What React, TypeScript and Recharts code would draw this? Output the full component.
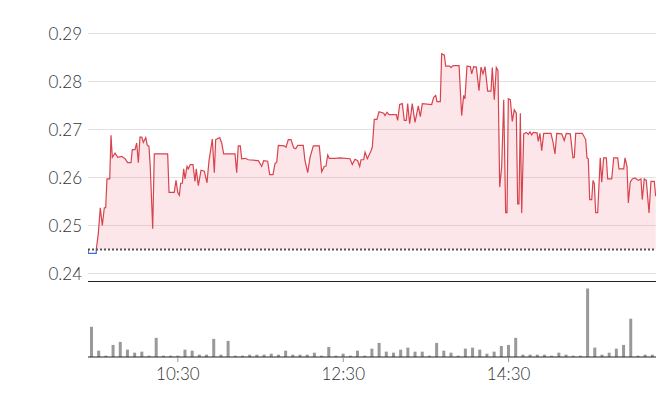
import React from "react";
import {
  Area,
  Bar,
  BarChart,
  CartesianGrid,
  ComposedChart,
  Line,
  ReferenceLine,
  XAxis,
  YAxis,
} from "recharts";

// x is measured in 5-minute volume slots (0..78), price in HKD
const prevClose = 0.245;
const priceTicks = [0.24, 0.25, 0.26, 0.27, 0.28, 0.29];
const timeTickSlots = [12, 35, 58];
const timeTickLabels = ["10:30", "12:30", "14:30"];

const preOpen: [number, number][] = [
  [-0.46, 0.245],
  [-0.46, 0.2442],
  [0.65, 0.2442],
  [0.65, 0.245],
];

const prices: [number, number][] = [
  [0.65, 0.245], [0.93, 0.2483], [1.21, 0.2537], [1.49, 0.25], [1.77, 0.2537], [1.96, 0.2537],
  [2.14, 0.2597], [2.52, 0.2597], [2.7, 0.2688], [2.88, 0.2642], [3.26, 0.2651], [3.63, 0.2642],
  [4.19, 0.2644], [4.65, 0.2639], [5.02, 0.2631], [5.48, 0.2631], [5.66, 0.2658], [6.04, 0.2658],
  [6.27, 0.2672], [6.5, 0.2631], [6.73, 0.2684], [6.97, 0.2684], [7.19, 0.2673], [7.53, 0.2683],
  [7.75, 0.2667], [7.98, 0.2665], [8.16, 0.2622], [8.5, 0.2493], [8.72, 0.2649], [10.58, 0.2649],
  [10.77, 0.2569], [11.5, 0.2569], [11.74, 0.2594], [11.98, 0.2569], [12.2, 0.2563], [12.39, 0.2588],
  [12.62, 0.2588], [12.81, 0.2618], [12.99, 0.2597], [13.27, 0.2623], [13.45, 0.2618], [13.73, 0.2627],
  [14.1, 0.2627], [14.38, 0.2592], [14.56, 0.2618], [14.84, 0.2583], [15.22, 0.2615], [15.68, 0.2613],
  [16.05, 0.2589], [16.33, 0.2635], [16.79, 0.268], [17.07, 0.261], [17.26, 0.2679], [17.82, 0.2683],
  [18.1, 0.2672], [18.37, 0.2649], [19.95, 0.2649], [20.18, 0.261], [20.4, 0.2666], [20.68, 0.2666],
  [20.88, 0.2639], [21.34, 0.264], [21.79, 0.2637], [23.19, 0.2635], [23.66, 0.2623], [23.94, 0.2635],
  [24.49, 0.2634], [24.77, 0.2606], [25.23, 0.2606], [25.51, 0.2629], [25.75, 0.2632], [25.97, 0.2667],
  [26.8, 0.2666], [27.04, 0.2663], [27.36, 0.2679], [27.73, 0.2679], [28.11, 0.2662], [28.39, 0.266],
  [28.67, 0.2667], [29.44, 0.2667], [29.68, 0.2635], [30.06, 0.261], [30.38, 0.2642], [30.84, 0.2666],
  [31.67, 0.2666], [32.0, 0.2612], [32.36, 0.2623], [32.6, 0.2624], [32.84, 0.2647], [33.06, 0.264],
  [33.85, 0.264], [34.55, 0.2641], [35.94, 0.2639], [36.26, 0.2627], [36.63, 0.2638], [37.01, 0.2635],
  [37.29, 0.2623], [37.47, 0.2637], [37.84, 0.2637], [38.03, 0.2653], [38.35, 0.2639], [38.83, 0.2654],
  [39.04, 0.2663], [39.32, 0.2721], [39.69, 0.2721], [39.97, 0.2737], [40.63, 0.2734], [40.81, 0.2729],
  [41.09, 0.2736], [41.36, 0.2731], [42.38, 0.2731], [42.57, 0.2719], [42.85, 0.2752], [43.21, 0.2754],
  [43.49, 0.2719], [43.77, 0.2719], [43.96, 0.2754], [44.24, 0.2712], [44.6, 0.2754], [44.98, 0.2715],
  [45.44, 0.2749], [45.72, 0.2727], [46.0, 0.2754], [47.3, 0.2752], [47.58, 0.2767], [47.86, 0.2771],
  [48.04, 0.2758], [48.5, 0.2758], [48.69, 0.2858], [49.06, 0.2855], [49.25, 0.2832], [49.81, 0.2832],
  [49.99, 0.2829], [50.27, 0.2833], [51.11, 0.2833], [51.47, 0.2729], [51.75, 0.2771], [51.93, 0.2764],
  [52.21, 0.2832], [52.67, 0.2831], [52.87, 0.2816], [53.14, 0.2831], [53.51, 0.283], [53.88, 0.2781],
  [54.16, 0.283], [54.44, 0.2816], [54.72, 0.2831], [55.09, 0.278], [55.55, 0.278], [55.73, 0.2829],
  [56.01, 0.2762], [56.29, 0.2829], [56.52, 0.2823], [56.76, 0.258], [57.04, 0.2623], [57.32, 0.2762],
  [57.59, 0.2527], [57.78, 0.2527], [57.96, 0.2764], [58.24, 0.2762], [58.51, 0.2717], [58.79, 0.2741],
  [59.07, 0.2734], [59.26, 0.2545], [59.44, 0.2545], [59.63, 0.2734], [59.82, 0.2526], [60.1, 0.2691],
  [60.46, 0.2694], [60.74, 0.269], [60.97, 0.2695], [61.21, 0.2689], [61.43, 0.2694], [61.95, 0.2693],
  [62.13, 0.2675], [62.36, 0.2692], [62.6, 0.2656], [62.88, 0.2692], [63.89, 0.2692], [64.17, 0.2674],
  [64.45, 0.2649], [64.69, 0.2692], [65.38, 0.2691], [65.74, 0.2677], [66.02, 0.2692], [66.58, 0.2691],
  [66.95, 0.2641], [67.14, 0.2642], [67.33, 0.2692], [68.25, 0.2692], [68.72, 0.2679], [68.9, 0.2641],
  [69.08, 0.2639], [69.28, 0.2554], [69.56, 0.2554], [69.74, 0.2594], [69.92, 0.2587], [70.11, 0.2527],
  [70.39, 0.2527], [70.75, 0.2641], [70.95, 0.259], [71.22, 0.2641], [71.59, 0.2641], [71.78, 0.2597],
  [72.34, 0.2597], [72.62, 0.2641], [73.17, 0.2641], [73.35, 0.2618], [74.01, 0.2618], [74.19, 0.2641],
  [74.47, 0.2623], [74.65, 0.2547], [74.92, 0.259], [75.2, 0.2597], [75.58, 0.2599], [76.04, 0.2594],
  [76.41, 0.2597], [76.59, 0.2554], [76.87, 0.2597], [77.15, 0.2594], [77.53, 0.2526], [77.8, 0.2592],
  [78.26, 0.2592], [78.46, 0.2561],
];

// volume per slot, in thousands of shares
const volumes = [
  30, 6.3, 1.3, 12, 15, 7.3, 4.3, 5.3, 1.3, 19, 1.3, 1.3, 1.3, 7.3, 6.3, 2.3, 2.3, 18, 2.3, 16,
  1.3, 1.3, 2.3, 2.3, 2.3, 3.3, 2.3, 6.3, 2.3, 2.3, 2.3, 4.3, 1.3, 10, 1.3, 3.3, 1.3, 6.3, 1.3, 8.3,
  14, 5.3, 4.3, 7.3, 9.3, 5.3, 5.3, 1.3, 14, 6.3, 4.3, 1.3, 8.3, 9.3, 7.3, 3.3, 5.3, 11, 12, 19,
  2.3, 2.3, 2.3, 2.3, 1.3, 4.3, 2.3, 1.3, 1.3, 68, 9.3, 2.3, 4.3, 8.3, 12, 38, 1.3, 2.3, 2.3,
];

const priceData = prices.map(([t, p]) => ({ t, p }));
const preOpenData = preOpen.map(([t, b]) => ({ t, b }));
const volumeData = volumes.map((v, i) => ({ slot: i, v }));

const tickFont = {
  fontFamily: "Lato, 'DejaVu Sans', sans-serif",
  fontSize: 17,
  fontWeight: 300,
  fill: "#333",
};

function timeLabel(slot: number) {
  const i = timeTickSlots.indexOf(Number(slot));
  return i >= 0 ? timeTickLabels[i] : "";
}

export default function App() {
  return (
    <div style={{ position: "absolute", left: 0, top: 0, width: 658, height: 408, background: "#fff" }}>
      <div style={{ position: "absolute", left: 0, top: 0 }}>
        <ComposedChart width={658} height={290.5} margin={{ top: 33.5, right: 2, bottom: 0, left: 0 }}>
          <CartesianGrid vertical={false} stroke="#e2e2e2" />
          <XAxis
            type="number"
            dataKey="t"
            domain={[-0.5, 78.5]}
            allowDataOverflow
            height={9}
            tick={false}
            tickLine={false}
            axisLine={{ stroke: "#222" }}
          />
          <YAxis
            domain={[0.23833, 0.29]}
            ticks={priceTicks}
            allowDataOverflow
            width={88}
            tickSize={4}
            tickMargin={2}
            tickLine={false}
            axisLine={false}
            tick={tickFont}
            tickFormatter={(v) => Number(v).toFixed(2)}
          />
          <Area
            data={priceData}
            dataKey="p"
            type="linear"
            baseValue={prevClose}
            stroke="#d8434d"
            strokeWidth={1.2}
            fill="#ef5a6a"
            fillOpacity={0.15}
            dot={false}
            activeDot={false}
            isAnimationActive={false}
          />
          <Line
            data={preOpenData}
            dataKey="b"
            type="linear"
            stroke="#3b6fd8"
            strokeWidth={1.2}
            dot={false}
            activeDot={false}
            isAnimationActive={false}
          />
          <ReferenceLine y={prevClose} stroke="#555" strokeWidth={2} strokeDasharray="2 2" />
        </ComposedChart>
      </div>
      <div style={{ position: "absolute", left: 0, top: 0 }}>
        <BarChart
          width={658}
          height={408}
          data={volumeData}
          margin={{ top: 286.5, right: 2, bottom: 0, left: 88 }}
          barCategoryGap={0}
        >
          <XAxis
            dataKey="slot"
            ticks={timeTickSlots}
            interval={0}
            height={51}
            tickSize={5}
            tickMargin={6}
            tickLine={{ stroke: "#999" }}
            axisLine={{ stroke: "#222" }}
            tick={tickFont}
            tickFormatter={timeLabel}
          />
          <YAxis hide domain={[0, 70]} />
          <Bar dataKey="v" fill="#999" barSize={3} isAnimationActive={false} />
        </BarChart>
      </div>
    </div>
  );
}
